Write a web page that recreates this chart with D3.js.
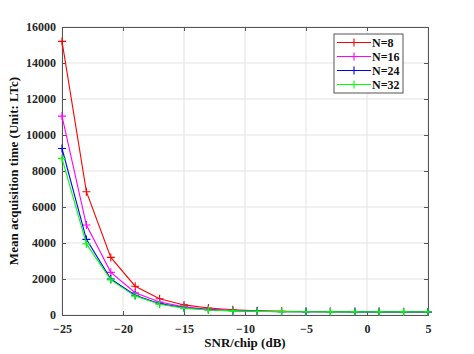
<!DOCTYPE html>
<html>
<head>
<meta charset="utf-8">
<script src="https://cdn.jsdelivr.net/npm/d3@7"></script>
<style>
  body { margin: 0; background: #fff; }
  svg text { font-family: "Liberation Serif", "Times New Roman", Times, "DejaVu Serif", serif; font-weight: bold; }
</style>
</head>
<body>
<div id="chart"></div>
<script>
// x values (SNR/chip dB)
const snr = [-25, -23, -21, -19, -17, -15, -13, -11, -9, -7, -5, -3, -1, 1, 3, 5];
// mean acquisition time per N
const n8  = [15200, 6850, 3200, 1600, 900, 560, 390, 290, 240, 210, 195, 185, 180, 178, 176, 175];
const n16 = [11050, 5000, 2370, 1240, 720, 450, 320, 250, 215, 195, 185, 180, 177, 175, 174, 173];
const n24 = [9250, 4200, 2000, 1100, 630, 400, 290, 235, 205, 190, 182, 178, 175, 174, 173, 172];
const n32 = [8700, 3950, 1950, 1050, 600, 380, 280, 230, 200, 188, 180, 176, 174, 173, 172, 171];
const seriesNames = ["N=8", "N=16", "N=24", "N=32"];
const seriesColors = ["#ff0000", "#ff00ff", "#0000ff", "#00ff00"];
const xTicks = [-25, -20, -15, -10, -5, 0, 5];
const yTicks = [0, 2000, 4000, 6000, 8000, 10000, 12000, 14000, 16000];

const w = 474, h = 354;
const margin = {left: 62, top: 27, right: 46, bottom: 39};
const fontFam = "'Liberation Serif', 'Times New Roman', Times, 'DejaVu Serif', serif";

let svg = d3.select("#chart").append("svg")
  .attr("width", w)
  .attr("height", h)
  .style("background", "white");

const x = d3.scaleLinear().domain([-25, 5]).range([margin.left, w - margin.right]);
const y = d3.scaleLinear().domain([0, 16000]).range([h - margin.bottom, margin.top]);

// grid
svg.append("g").selectAll("line.gx")
  .data(xTicks).enter().append("line")
  .attr("x1", d => x(d)).attr("x2", d => x(d))
  .attr("y1", y(0)).attr("y2", y(16000))
  .attr("stroke", "#e3e3e3").attr("stroke-width", 1);
svg.append("g").selectAll("line.gy")
  .data(yTicks).enter().append("line")
  .attr("x1", x(-25)).attr("x2", x(5))
  .attr("y1", d => y(d)).attr("y2", d => y(d))
  .attr("stroke", "#e3e3e3").attr("stroke-width", 1);

// axes (MATLAB style: ticks inward)
let xAxis = svg.append("g")
  .attr("transform", "translate(0," + y(0) + ")")
  .call(d3.axisBottom(x).tickValues(xTicks).tickSizeInner(-4).tickSizeOuter(0).tickPadding(9));
let yAxis = svg.append("g")
  .attr("transform", "translate(" + x(-25) + ",0)")
  .call(d3.axisLeft(y).tickValues(yTicks).tickSizeInner(-4).tickSizeOuter(0).tickPadding(6).tickFormat(d3.format("d")));
let xTop = svg.append("g")
  .attr("transform", "translate(0," + y(16000) + ")")
  .call(d3.axisTop(x).tickValues(xTicks).tickSizeInner(-4).tickSizeOuter(0).tickFormat(""));
let yRight = svg.append("g")
  .attr("transform", "translate(" + x(5) + ",0)")
  .call(d3.axisRight(y).tickValues(yTicks).tickSizeInner(-4).tickSizeOuter(0).tickFormat(""));

[xAxis, yAxis, xTop, yRight].forEach(a => {
  a.attr("font-family", null).attr("font-size", null);
  a.selectAll("path").attr("stroke", "#555");
  a.selectAll("line").attr("stroke", "#555");
  a.selectAll("text").attr("fill", "#262626").style("font-size", "12px")
    .style("font-family", fontFam).style("font-weight", "bold");
});

// lines
const allSeries = [n8, n16, n24, n32];
const line = d3.line().x((d, i) => x(snr[i])).y(d => y(d));

allSeries.forEach((vals, k) => {
  svg.append("path")
    .datum(vals)
    .attr("fill", "none")
    .attr("stroke", seriesColors[k])
    .attr("stroke-width", 1.1)
    .attr("d", line);
  svg.append("g").selectAll("path")
    .data(vals).enter().append("path")
    .attr("d", (d, i) => {
      let cx = x(snr[i]), cy = y(d);
      return "M" + (cx - 4) + "," + cy + "H" + (cx + 4) + "M" + cx + "," + (cy - 4) + "V" + (cy + 4);
    })
    .attr("stroke", seriesColors[k])
    .attr("stroke-width", 1.1);
});

// legend
let lg = svg.append("g");
lg.append("rect")
  .attr("x", 334).attr("y", 34).attr("width", 69).attr("height", 59)
  .attr("fill", "white").attr("stroke", "#555").attr("stroke-width", 1);
seriesNames.forEach((name, k) => {
  let ly = 42.5 + k * 14;
  lg.append("line")
    .attr("x1", 337).attr("x2", 371).attr("y1", ly).attr("y2", ly)
    .attr("stroke", seriesColors[k]).attr("stroke-width", 1.1);
  lg.append("path")
    .attr("d", "M350," + ly + "H358M354," + (ly - 4) + "V" + (ly + 4))
    .attr("stroke", seriesColors[k]).attr("stroke-width", 1.1);
  lg.append("text")
    .attr("x", 372).attr("y", ly + 4)
    .style("font-size", "12px")
    .style("font-family", fontFam)
    .attr("fill", "#111")
    .text(name);
});

// axis labels
svg.append("text")
  .attr("x", (x(-25) + x(5)) / 2)
  .attr("y", 347)
  .attr("text-anchor", "middle")
  .style("font-size", "13px")
  .style("font-family", fontFam)
  .attr("fill", "#111")
  .text("SNR/chip (dB)");
svg.append("text")
  .attr("transform", "translate(18," + ((y(0) + y(16000)) / 2) + ") rotate(-90)")
  .attr("text-anchor", "middle")
  .style("font-size", "13px")
  .style("font-family", fontFam)
  .attr("fill", "#111")
  .text("Mean acquisition time (Unit: LTc)");
</script>
</body>
</html>
